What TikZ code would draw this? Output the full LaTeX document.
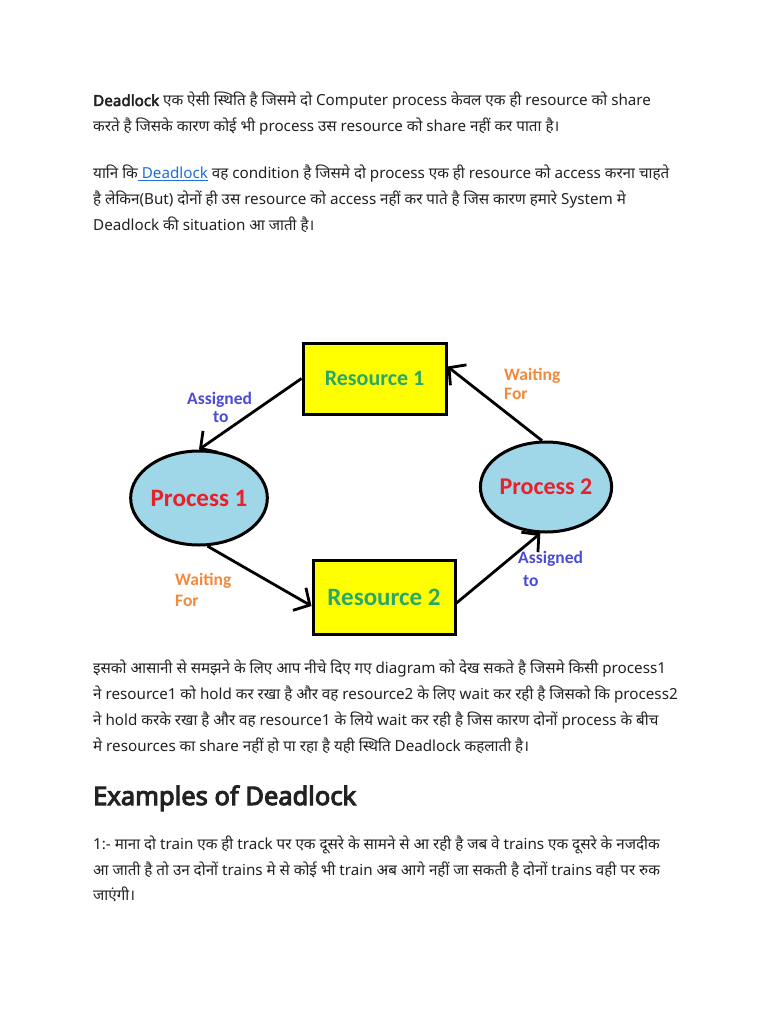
\documentclass[tikz,border=0pt]{standalone}
\usepackage{fontspec}
\setmainfont{Noto Sans}[Script=Devanagari]
\newfontfamily\boldlatin{Noto Sans}[FakeBold=3]
\newfontfamily\headfont{Noto Sans}[FakeBold=4]
\newfontfamily\diagfont{Carlito}
\usetikzlibrary{arrows.meta,calc,shapes.geometric}
\definecolor{txt}{HTML}{222222}
\definecolor{linkblue}{HTML}{1E6FD9}
\definecolor{boxyellow}{HTML}{FFFF00}
\definecolor{ellblue}{HTML}{9FD6E8}
\definecolor{resgreen}{HTML}{2AA866}
\definecolor{procred}{HTML}{E8202A}
\definecolor{asgblue}{HTML}{4B4BD6}
\definecolor{waitorange}{HTML}{F28A3C}
\begin{document}
\begin{tikzpicture}[x=1pt,y=-1pt,
  bodyline/.style={anchor=base west, inner sep=0pt, text=txt, font=\fontsize{15.2}{17}\selectfont},
  headline/.style={anchor=base west, inner sep=0pt, text=txt, font=\headfont\fontsize{25.5}{29}\selectfont},
  resbox/.style={draw=black, line width=3pt, fill=boxyellow, text=resgreen, inner sep=0pt},
  procell/.style={ellipse, draw=black, line width=3pt, fill=ellblue, text=procred, inner sep=0pt},
  asglabel/.style={anchor=base west, inner sep=0pt, text=asgblue, font=\diagfont\bfseries\fontsize{17.5}{19}\selectfont},
  waitlabel/.style={anchor=base west, inner sep=0pt, text=waitorange, font=\diagfont\bfseries\fontsize{17.5}{19}\selectfont},
  conn/.style={draw=black, line width=2.8pt, -{Straight Barb[length=12pt,width=26pt]}}
]
\useasboundingbox (0,0) rectangle (768,1024);
\fill[white] (0,0) rectangle (768,1024);

% paragraph 1
\node[bodyline] (t1a) at (93,106) {{\boldlatin Deadlock} एक ऐसी स्थिति है जिसमे दो Computer process केवल एक ही resource को share};
\node[bodyline] (t1b) at (93,132) {करते है जिसके कारण कोई भी process उस resource को share नहीं कर पाता है।};

% paragraph 2
\node[bodyline] (t2a) at (93,179) {यानि कि\textcolor{linkblue}{\underline{\ Deadlock}} वह condition है जिसमे दो process एक ही resource को access करना चाहते};
\node[bodyline] (t2b) at (93,205) {है लेकिन(But) दोनों ही उस resource को access नहीं कर पाते है जिस कारण हमारे System मे};
\node[bodyline] (t2c) at (93,230) {Deadlock की situation आ जाती है।};

% diagram
\node[resbox, minimum width=143pt, minimum height=71pt, font=\diagfont\bfseries\fontsize{22}{24}\selectfont] (r1) at (374.5,378.5) {Resource 1};
\node[resbox, minimum width=142pt, minimum height=74pt, font=\diagfont\bfseries\fontsize{25}{27}\selectfont] (r2) at (384,597) {Resource 2};
\node[procell, minimum width=130pt, minimum height=94pt, font=\diagfont\bfseries\fontsize{25}{27}\selectfont] (p1) at (199,498) {Process 1};
\node[procell, minimum width=124pt, minimum height=90pt, font=\diagfont\bfseries\fontsize{24}{26}\selectfont] (p2) at (546,487) {Process 2};

\draw[conn] (r1.west) -- (p1.north);
\draw[conn] (p1.-80) -- ($(r2.west)+(0,9)$);
\draw[conn] ($(r2.east)+(0,6)$) -- (p2.-97);
\draw[conn] (p2.95) -- ($(r1.east)+(0,-12)$);

\node[asglabel] (la1) at (187,404) {Assigned};
\node[asglabel] (la2) at (213,422) {to};
\node[waitlabel] (lw1) at (504,380) {Waiting};
\node[waitlabel] (lw2) at (504,399) {For};
\node[waitlabel] (lw3) at (175,585) {Waiting};
\node[waitlabel] (lw4) at (175,606) {For};
\node[asglabel] (la3) at (518,563) {Assigned};
\node[asglabel] (la4) at (523,586) {to};

% paragraph 3
\node[bodyline] (t3a) at (93,673) {इसको आसानी से समझने के लिए आप नीचे दिए गए diagram को देख सकते है जिसमे किसी process1};
\node[bodyline] (t3b) at (93,699) {ने resource1 को hold कर रखा है और वह resource2 के लिए wait कर रही है जिसको कि process2};
\node[bodyline] (t3c) at (93,725) {ने hold करके रखा है और वह resource1 के लिये wait कर रही है जिस कारण दोनों process के बीच};
\node[bodyline] (t3d) at (93,751) {मे resources का share नहीं हो पा रहा है यही स्थिति Deadlock कहलाती है।};

% heading
\node[headline] (h1) at (93,805) {Examples of Deadlock};

% paragraph 4
\node[bodyline] (t4a) at (93,849) {1:- माना दो train एक ही track पर एक दूसरे के सामने से आ रही है जब वे trains एक दूसरे के नजदीक};
\node[bodyline] (t4b) at (93,875) {आ जाती है तो उन दोनों trains मे से कोई भी train अब आगे नहीं जा सकती है दोनों trains वही पर रुक};
\node[bodyline] (t4c) at (93,900) {जाएंगी।};
\end{tikzpicture}
\end{document}
